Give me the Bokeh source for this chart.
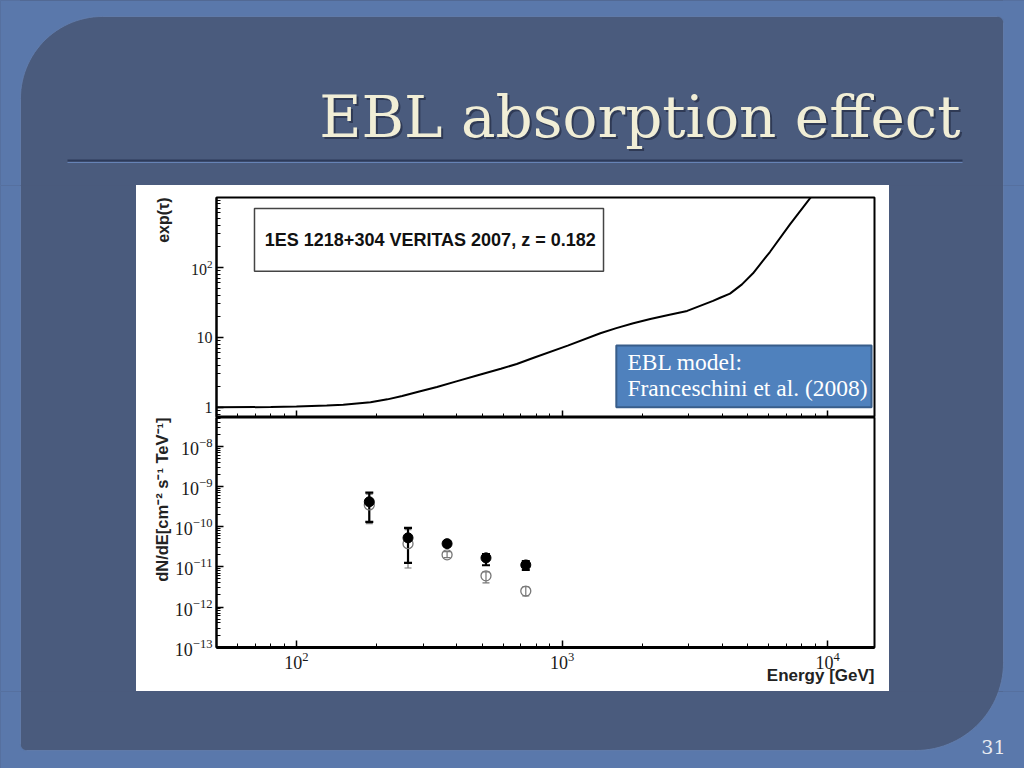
import numpy as np
from bokeh.plotting import figure
from bokeh.layouts import column, row
from bokeh.models import (Range1d, LogTickFormatter, Title, Whisker, TeeHead,
                          ColumnDataSource, BoxAnnotation, Label, CustomJSTickFormatter)
from bokeh.core.properties import value
from bokeh.embed import file_html
from bokeh.resources import INLINE

# ---------------- data ----------------
curve_energy = [50, 80, 100, 130, 150, 190, 220, 250, 290, 338, 400, 478, 588,
                675, 782, 1050, 1393, 1600, 1854, 2148, 2513, 2957, 3700, 3936,
                4286, 4755, 5234, 6058, 7197, 8710]
curve_exp_tau = [1.00, 1.01, 1.03, 1.06, 1.09, 1.18, 1.30, 1.45, 1.68, 1.95,
                 2.35, 2.85, 3.55, 4.15, 5.1, 7.6, 11.4, 13.5, 15.9, 18.2, 20.8,
                 23.8, 33.1, 36.7, 42, 56.9, 82, 165, 406, 1040]

point_energy = [188, 263, 369, 517, 730]
flux_observed = [4.2e-10, 5.3e-11, 3.8e-11, 1.68e-11, 1.12e-11]
flux_observed_hi = [7.1e-10, 9.4e-11, 4.4e-11, 2.1e-11, 1.4e-11]
flux_observed_lo = [1.33e-10, 1.26e-11, 3.3e-11, 1.1e-11, 8.4e-12]
flux_open = [3.5e-10, 3.8e-11, 2.0e-11, 6.0e-12, 2.5e-12]
flux_open_hi = [6.5e-10, 8.5e-11, 2.4e-11, 7.5e-12, 3.2e-12]
flux_open_lo = [1.2e-10, 9.4e-12, 1.7e-11, 4.0e-12, 1.9e-12]

slide_title = "EBL absorption effect"
slide_number = "31"
source_label = "1ES 1218+304 VERITAS 2007, z = 0.182"
model_lines = ["EBL model:", "Franceschini et al. (2008)"]

# ---------------- slide decoration ----------------
BG = "#5a78ab"
PANEL = "#4a5b7d"
H_GRADIENT = (f"linear-gradient(to right, {BG} 20px, {PANEL} 20px, "
              f"{PANEL} 1003px, {BG} 1003px)")
CONTAINER_STYLE = {"background-color": PANEL, "background-image": H_GRADIENT}


def rounded_outline(x0, y0, x1, y1, r_tl, r_tr, r_br, r_bl, n=30):
    xs, ys = [], []
    corners = [((x0 + r_tl, y0 + r_tl), r_tl, 180, 270),
               ((x1 - r_tr, y0 + r_tr), r_tr, 270, 360),
               ((x1 - r_br, y1 - r_br), r_br, 0, 90),
               ((x0 + r_bl, y1 - r_bl), r_bl, 90, 180)]
    for (cx, cy), r, a0, a1 in corners:
        a = np.radians(np.linspace(a0, a1, n))
        xs.extend(cx + r * np.cos(a))
        ys.extend(cy + r * np.sin(a))
    return xs, ys


panel_x, panel_y = rounded_outline(20, 16, 1003, 750, 82, 6, 88, 6)
outer_x = [-60, 1084, 1084, -60]
outer_y = [-60, -60, 828, 828]


def deco(x0, x1, y0, y1):
    p = figure(width=int(x1 - x0), height=int(y1 - y0),
               x_range=Range1d(x0, x1), y_range=Range1d(y1, y0),
               x_axis_type=None, y_axis_type=None, toolbar_location=None,
               output_backend="svg", min_border=0)
    p.outline_line_color = None
    p.background_fill_color = PANEL
    p.border_fill_color = PANEL
    # slide background around the rounded panel (outer rectangle with a hole)
    p.multi_polygons(xs=[[[outer_x, list(panel_x)]]], ys=[[[outer_y, list(panel_y)]]],
                     fill_color=BG, line_color=None)
    p.line(list(panel_x) + [panel_x[0]], list(panel_y) + [panel_y[0]],
           line_color="#6781b0", line_width=1, line_alpha=0.7)
    return p


top_strip = deco(0, 1024, 0, 185)
top_strip.segment(x0=[67], y0=[160], x1=[962], y1=[160], line_color="#2c3a5a", line_width=2)
top_strip.segment(x0=[67], y0=[162], x1=[962], y1=[162], line_color="#6683b6", line_width=1)
top_strip.text(x=[962], y=[118], text=[slide_title], text_align="right",
               text_baseline="alphabetic", text_font=value("DejaVu Serif"),
               text_font_size="58px", text_color="#232c44", text_alpha=0.7)
top_strip.text(x=[960], y=[116], text=[slide_title], text_align="right",
               text_baseline="alphabetic", text_font=value("DejaVu Serif"),
               text_font_size="58px", text_color="#f1eed6")

left_strip = deco(0, 136, 185, 691)
right_strip = deco(889, 1024, 185, 691)
bottom_strip = deco(0, 1024, 691, 768)
bottom_strip.text(x=[1005], y=[746], text=[slide_number], text_align="right",
                  text_baseline="alphabetic", text_font=value("DejaVu Serif"),
                  text_font_size="19px", text_color="#e8ebf1")

# ---------------- chart panels ----------------
X_START, X_END = 50, 15000


def style_axis(ax, size="18px"):
    ax.major_tick_in = 7
    ax.major_tick_out = 0
    ax.minor_tick_in = 4
    ax.minor_tick_out = 0
    ax.axis_line_width = 2
    ax.major_tick_line_width = 1.5
    ax.major_label_text_font = "Liberation Serif"
    ax.major_label_text_font_size = size
    ax.major_label_text_color = "#1a1a1a"
    ax.major_label_standoff = 4


def chart(height, y_start, y_end, **borders):
    p = figure(width=753, height=height, x_axis_type="log", y_axis_type="log",
               x_range=Range1d(X_START, X_END), y_range=Range1d(y_start, y_end),
               toolbar_location=None, output_backend="svg", **borders)
    p.background_fill_color = "white"
    p.border_fill_color = "white"
    p.outline_line_color = "black"
    p.outline_line_width = 2
    p.grid.visible = False
    style_axis(p.xaxis[0])
    style_axis(p.yaxis[0])
    return p


# top: exp(tau)
ptop = chart(232, 0.716, 990, min_border_left=79, min_border_right=15,
             min_border_top=12, min_border_bottom=0)
ptop.yaxis[0].formatter = LogTickFormatter(min_exponent=1)
ptop.yaxis[0].major_label_overrides = {10: "10"}
ptop.yaxis[0].major_label_text_font_size = "16px"
ptop.xaxis[0].formatter = CustomJSTickFormatter(code="return ''")
ptop.xaxis[0].major_label_standoff = 0
ptop.add_layout(Title(text="exp(τ)", align="right", text_font="Liberation Sans",
                      text_font_style="bold", text_font_size="16px",
                      text_color="#222222", standoff=32), "left")
ptop.line(curve_energy, curve_exp_tau, line_color="black", line_width=2)
ptop.add_layout(BoxAnnotation(left=69.5, right=1432, bottom=87.5, top=692,
                              fill_color="white", fill_alpha=1,
                              line_color="#444444", line_alpha=1, line_width=1.5))
ptop.add_layout(Label(x=76, y=246, text=source_label, text_font="Liberation Sans",
                      text_font_style="bold", text_font_size="18px",
                      text_baseline="middle", text_color="#111111"))
ptop.add_layout(BoxAnnotation(left=1600, right=14620, bottom=1.0, top=7.65,
                              fill_color="#4f81bd", fill_alpha=1,
                              line_color="#385d8a", line_alpha=1, line_width=2))
ptop.add_layout(Label(x=1762, y=4.49, text=model_lines[0], text_font="Liberation Serif",
                      text_font_size="23.5px", text_baseline="middle", text_color="white"))
ptop.add_layout(Label(x=1762, y=1.89, text=model_lines[1], text_font="Liberation Serif",
                      text_font_size="23.5px", text_baseline="middle", text_color="white"))

# bottom: dN/dE
pbot = chart(274, 0.98e-13, 5.3e-8, min_border_left=79, min_border_right=15,
             min_border_top=0, min_border_bottom=44)
pbot.xaxis[0].formatter = LogTickFormatter(min_exponent=0)
pbot.yaxis[0].formatter = LogTickFormatter(min_exponent=0)
pbot.xaxis[0].axis_line_width = 3
pbot.add_layout(Title(text="dN/dE[cm⁻² s⁻¹ TeV⁻¹]", align="right",
                      text_font="Liberation Sans", text_font_style="bold",
                      text_font_size="16.5px", text_color="#222222", standoff=2), "left")
pbot.add_layout(Title(text="Energy [GeV]", align="right", text_font="Liberation Sans",
                      text_font_style="bold", text_font_size="17px",
                      text_color="#222222", standoff=-16), "below")

src_open = ColumnDataSource(dict(x=point_energy, y=flux_open, lo=flux_open_lo, hi=flux_open_hi))
src_obs = ColumnDataSource(dict(x=point_energy, y=flux_observed, lo=flux_observed_lo,
                                hi=flux_observed_hi))

pbot.add_layout(Whisker(base="x", lower="lo", upper="hi", source=src_open,
                        line_color="#777777", line_width=1.2,
                        upper_head=TeeHead(size=7, line_color="#777777", line_width=1.2),
                        lower_head=TeeHead(size=7, line_color="#777777", line_width=1.2)))
pbot.scatter("x", "y", source=src_open, marker="circle", size=10,
             fill_color=None, line_color="#777777", line_width=1.3)
pbot.add_layout(Whisker(base="x", lower="lo", upper="hi", source=src_obs,
                        line_color="black", line_width=2.2,
                        upper_head=TeeHead(size=8, line_color="black", line_width=2.2),
                        lower_head=TeeHead(size=8, line_color="black", line_width=2.2)))
pbot.scatter("x", "y", source=src_obs, marker="circle", size=10,
             fill_color="black", line_color="black")

charts = column(ptop, pbot, styles={"background-color": "white"})
middle = row(left_strip, charts, right_strip, styles=dict(CONTAINER_STYLE))
inner = column(top_strip, middle, bottom_strip, styles=dict(CONTAINER_STYLE))
layout = column(inner, styles=dict(CONTAINER_STYLE))

html = file_html(layout, INLINE, title=slide_title)
html = html.replace("<head>", "<head>\n<style>html, body {background-color: #5a78ab;}</style>", 1)
open("out.html", "w").write(html)
